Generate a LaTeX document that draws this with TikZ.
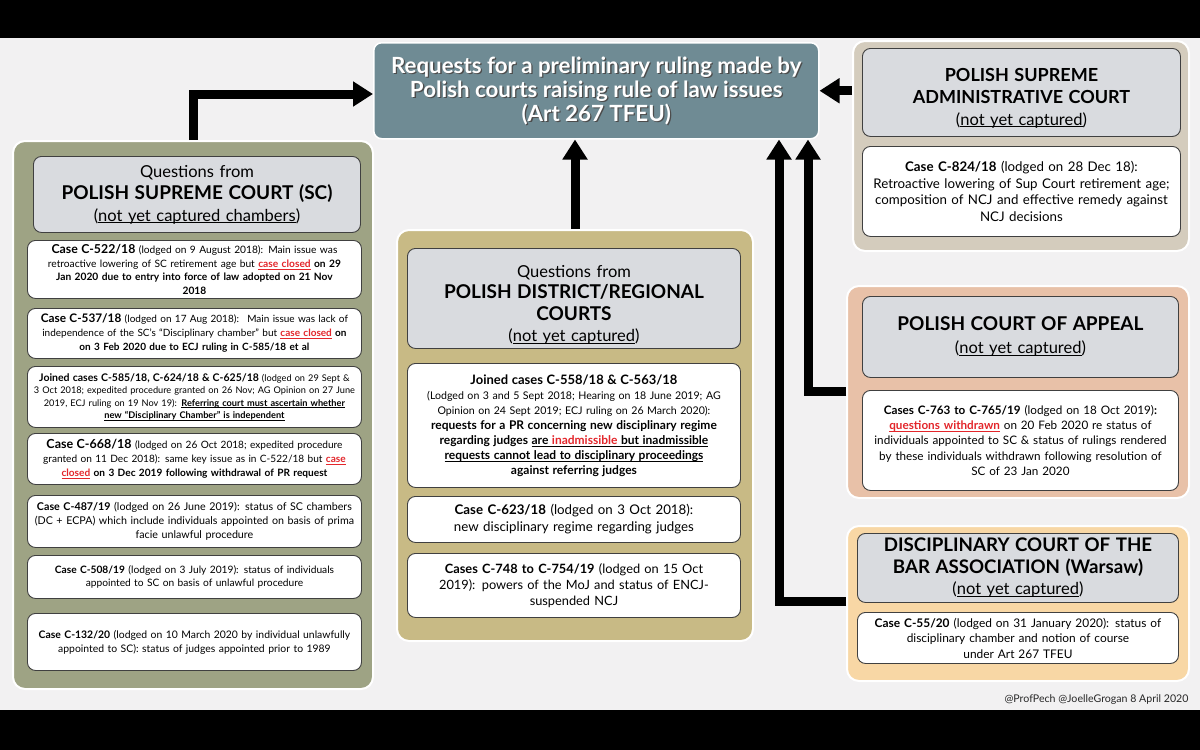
\documentclass[tikz,border=0pt]{standalone}
\usepackage{fontspec}
\setmainfont{Lato}
\usetikzlibrary{arrows.meta}
\definecolor{bg}{HTML}{F2F1F2}
\definecolor{titlefill}{HTML}{6F8B94}
\definecolor{scfill}{HTML}{9EA384}
\definecolor{dcfill}{HTML}{C8BA85}
\definecolor{safill}{HTML}{D4CCBD}
\definecolor{apfill}{HTML}{E8C1A8}
\definecolor{bafill}{HTML}{F8D7A5}
\definecolor{hdrfill}{HTML}{D9DBDF}
\definecolor{boxline}{HTML}{404040}
\definecolor{cred}{HTML}{E3262B}
\newcommand{\fs}[2]{\fontsize{#1}{#2}\selectfont}
\newcommand{\ulx}[1]{\leavevmode\setbox0\hbox{#1}\rlap{\rule[-2pt]{\wd0}{0.7pt}}\box0}
\newcommand{\rcl}[1]{\textcolor{cred}{\ulx{#1}}}
\tikzset{
  outer/.style={draw=white, line width=2pt, rounded corners=12pt, anchor=north west, inner sep=0pt},
  hdr/.style={fill=hdrfill, draw=boxline, line width=0.9pt, rounded corners=8pt, anchor=north west, align=center, inner xsep=3pt, inner ysep=0pt},
  casebox/.style={fill=white, draw=boxline, line width=0.9pt, rounded corners=8pt, anchor=north west, align=center, inner xsep=3pt, inner ysep=0pt},
  arr/.style={line width=9pt, -{Triangle[width=24pt,length=20pt]}},
}
\begin{document}
\begin{tikzpicture}[x=1pt,y=-1pt]
\useasboundingbox (0,0) rectangle (1200,750);
\fill[bg] (0,0) rectangle (1200,750);
\fill[black] (0,0) rectangle (1200,38);
\fill[black] (0,710) rectangle (1200,750);

% title
\node[fill=titlefill, draw=white, line width=1.5pt, rounded corners=8pt, anchor=north west, minimum width=445pt, minimum height=96pt, inner sep=0pt] (title) at (373,42) {};
\node[text=black!70, align=center, font=\bfseries\fs{22.3}{24}] (titleshadow) at ([xshift=1.3pt,yshift=-1.3pt]title.center) {Requests for a preliminary ruling made by\\Polish courts raising rule of law issues\\(Art 267 TFEU)};
\node[text=white, align=center, font=\bfseries\fs{22.3}{24}] (titletext) at (title.center) {Requests for a preliminary ruling made by\\Polish courts raising rule of law issues\\(Art 267 TFEU)};

% left column: supreme court
\node[outer, fill=scfill, minimum width=360pt, minimum height=548pt] (scol) at (12,140) {};
\node[hdr, text width=321pt, minimum height=76pt, font=\fs{16.5}{22}] (schdr) at (33,156) {Questions from\\{\bfseries\fs{19}{22}POLISH SUPREME COURT (SC)}\\(\ulx{not yet captured chambers})};
\node[casebox, text width=328pt, minimum height=58pt, font=\fs{10.2}{13.5}] (sc1) at (27,240) {{\bfseries\fs{12.3}{13.5}Case C-522/18} (lodged on 9 August 2018): Main issue was\\retroactive lowering of SC retirement age but \textbf{\rcl{case closed} on 29}\\\textbf{Jan 2020 due to entry into force of law adopted on 21 Nov}\\\textbf{2018}};
\node[casebox, text width=328pt, minimum height=50pt, font=\fs{10}{14}] (sc2) at (27,308) {{\bfseries\fs{11.8}{14}Case C-537/18} (lodged on 17 Aug 2018):~ Main issue was lack of\\independence of the SC’s “Disciplinary chamber” but \textbf{\rcl{case closed} on}\\\textbf{on 3 Feb 2020 due to ECJ ruling in C-585/18 et al}};
\node[casebox, text width=328pt, minimum height=61pt, font=\fs{9.2}{12.5}] (sc3) at (27,366) {{\bfseries\fs{10.5}{12.5}Joined cases C-585/18, C-624/18 \& C-625/18} (lodged on 29 Sept \&\\3 Oct 2018; expedited procedure granted on 26 Nov; AG Opinion on 27 June\\2019, ECJ ruling on 19 Nov 19): \textbf{\ulx{Referring court must ascertain whether}}\\\textbf{\ulx{new “Disciplinary Chamber” is independent}}};
\node[casebox, text width=328pt, minimum height=51pt, font=\fs{10.1}{14}] (sc4) at (27,433) {{\bfseries\fs{12.5}{14}Case C-668/18} (lodged on 26 Oct 2018; expedited procedure\\granted on 11 Dec 2018): same key issue as in C-522/18 but \textbf{\rcl{case}}\\\textbf{\rcl{closed} on 3 Dec 2019 following withdrawal of PR request}};
\node[casebox, text width=332pt, inner xsep=1pt, minimum height=52pt, font=\fs{10.7}{14}] (sc5) at (27,495) {{\bfseries Case C-487/19} (lodged on 26 June 2019): status of SC chambers\\(DC + ECPA) which include individuals appointed on basis of prima\\facie unlawful procedure};
\node[casebox, text width=328pt, minimum height=43pt, font=\fs{10.2}{13.5}] (sc6) at (27,555) {{\bfseries Case C-508/19} (lodged on 3 July 2019): status of individuals\\appointed to SC on basis of unlawful procedure};
\node[casebox, text width=328pt, minimum height=57pt, font=\fs{10.4}{14}] (sc7) at (27,613) {{\bfseries Case C-132/20} (lodged on 10 March 2020 by individual unlawfully\\appointed to SC): status of judges appointed prior to 1989};

% middle column: district/regional
\node[outer, fill=dcfill, minimum width=356pt, minimum height=411pt] (dcol) at (396,229) {};
\node[hdr, text width=327pt, minimum height=100pt, font=\fs{16.5}{21.5}] (dchdr) at (407,248) {\rule{0pt}{25pt}Questions from\\{\bfseries\fs{19}{21.5}POLISH DISTRICT/REGIONAL}\\{\bfseries\fs{19}{21.5}COURTS}\\(\ulx{not yet captured})};
\node[casebox, text width=327pt, minimum height=124pt, font=\fs{10.6}{15}] (dc1) at (407,363) {{\bfseries\fs{13}{15}Joined cases C-558/18 \& C-563/18}\\(Lodged on 3 and 5 Sept 2018; Hearing on 18 June 2019; AG\\Opinion on 24 Sept 2019; ECJ ruling on 26 March 2020):\\{\bfseries\fs{12}{15}requests for a PR concerning new disciplinary regime}\\{\bfseries\fs{12}{15}regarding judges \ulx{are \textcolor{cred}{inadmissible} but inadmissible}}\\{\bfseries\fs{12}{15}\ulx{requests cannot lead to disciplinary proceedings}}\\{\bfseries\fs{12}{15}against referring judges}};
\node[casebox, text width=327pt, minimum height=46pt, font=\fs{13.3}{17}] (dc2) at (407,496) {{\bfseries Case C-623/18} (lodged on 3 Oct 2018):\\new disciplinary regime regarding judges};
\node[casebox, text width=327pt, minimum height=64pt, font=\fs{12.8}{16}] (dc3) at (407,553) {{\bfseries Cases C-748 to C-754/19} (lodged on 15 Oct\\2019): powers of the MoJ and status of ENCJ-\\suspended NCJ};

% right top: supreme administrative court
\node[outer, fill=safill, minimum width=336pt, minimum height=210pt] (sacol) at (852,40) {};
\node[hdr, text width=312pt, minimum height=88pt, font=\fs{16.5}{22}] (sahdr) at (862,48) {{\bfseries\fs{18}{22}\rule{0pt}{24pt}POLISH SUPREME}\\{\bfseries\fs{18}{22}ADMINISTRATIVE COURT}\\(\ulx{not yet captured})};
\node[casebox, text width=312pt, minimum height=90pt, font=\fs{13.3}{16.5}] (sa1) at (862,146) {{\bfseries Case C-824/18} (lodged on 28 Dec 18):\\Retroactive lowering of Sup Court retirement age;\\composition of NCJ and effective remedy against\\NCJ decisions};

% right middle: court of appeal
\node[outer, fill=apfill, minimum width=342pt, minimum height=212pt] (apcol) at (846,285) {};
\node[hdr, text width=310pt, minimum height=81pt, font=\fs{16.5}{23}] (aphdr) at (862,296) {{\bfseries\fs{19}{23}POLISH COURT OF APPEAL}\\(\ulx{not yet captured})};
\node[casebox, text width=310pt, minimum height=100pt, font=\fs{11.7}{15.3}] (ap1) at (862,390) {{\bfseries Cases C-763 to C-765/19} (lodged on 18 Oct 2019)\textbf{:}\\\textbf{\rcl{questions withdrawn}} on 20 Feb 2020 re status of\\individuals appointed to SC \& status of rulings rendered\\by these individuals withdrawn following resolution of\\SC of 23 Jan 2020};

% right bottom: bar association
\node[outer, fill=bafill, minimum width=342pt, minimum height=155pt] (bacol) at (846,525) {};
\node[hdr, text width=315pt, minimum height=69pt, font=\fs{16.5}{21.5}] (bahdr) at (857,533) {{\bfseries\fs{18.7}{21.5}DISCIPLINARY COURT OF THE}\\{\bfseries\fs{18.7}{21.5}BAR ASSOCIATION (Warsaw)}\\(\ulx{not yet captured})};
\node[casebox, text width=315pt, minimum height=51pt, font=\fs{11.9}{15.5}] (ba1) at (857,612) {{\bfseries Case C-55/20} (lodged on 31 January 2020): status of\\disciplinary chamber and notion of course\\under Art 267 TFEU};

% credit
\node[anchor=east, font=\fs{10.6}{12}, text=black!85] (credit) at (1192,700) {@ProfPech @JoelleGrogan 8 April 2020};

% arrows
\coordinate (scturn) at (scol.north |- 0,94);
\coordinate (titlein) at (title.west |- 0,94);
\draw[arr] (scol.north) -- (scturn) -- (titlein);
\draw[arr] (dcol.north) -- (dcol.north |- title.south);
\draw[arr] (sacol.west |- title.east) -- (title.east);
\coordinate (apout) at (apcol.west |- 0,391);
\coordinate (aptop) at (title.south -| 808,0);
\draw[arr] (apout) -| (aptop);
\coordinate (baout) at (bacol.west |- 0,601);
\coordinate (batop) at (title.south -| 779,0);
\draw[arr] (baout) -| (batop);
\end{tikzpicture}
\end{document}
